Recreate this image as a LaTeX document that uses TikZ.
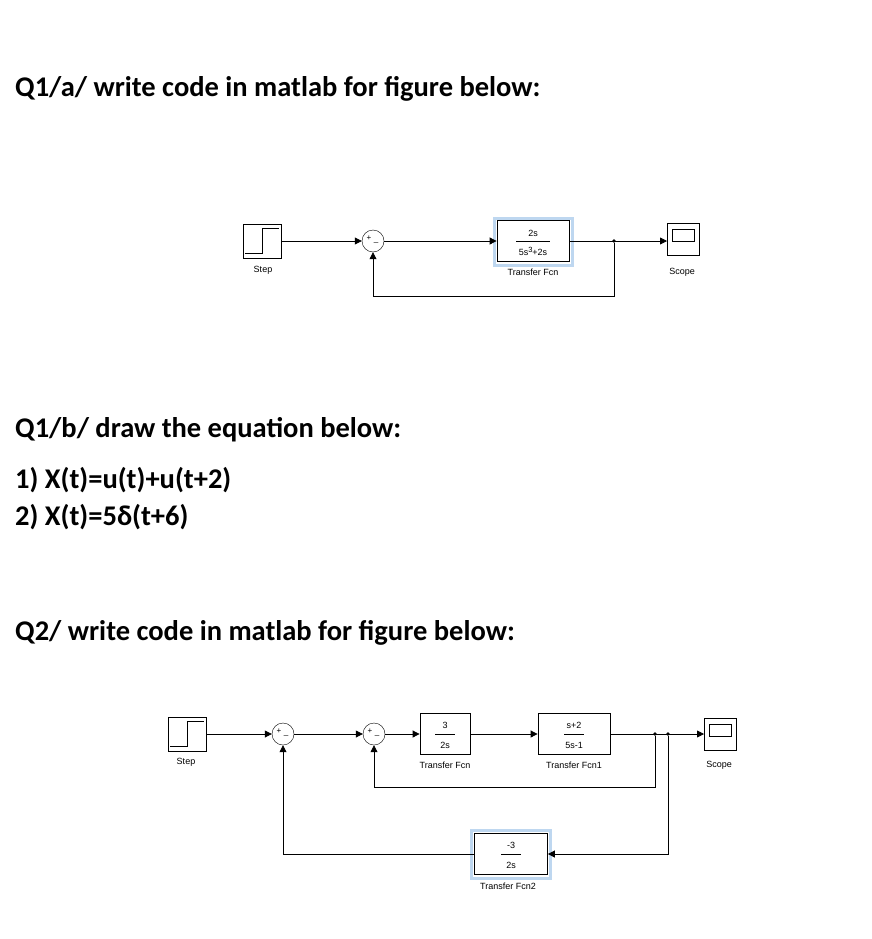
\documentclass[tikz,border=0pt]{standalone}
\usepackage{fontspec}
\setmainfont{Carlito}
\newfontfamily\simfont{Liberation Sans}
\usetikzlibrary{arrows.meta}
\definecolor{selc}{RGB}{190,215,240}
\begin{document}
\begin{tikzpicture}[x=1pt,y=-1pt,
 head/.style={anchor=base west,font=\fontsize{28.5}{32}\selectfont\bfseries,inner sep=0},
 blk/.style={draw,thick,fill=white,minimum width=#1,minimum height=41,inner sep=0},
 ft/.style={font=\simfont\fontsize{9}{10}\selectfont,inner sep=0},
 lab/.style={font=\simfont\fontsize{9}{10}\selectfont,inner sep=0},
 sum/.style={circle,draw,fill=white,minimum size=22,inner sep=0},
 sg/.style={font=\simfont\fontsize{8}{9}\selectfont,inner sep=0},
 ln/.style={line width=0.8pt},
 arr/.style={ln,-{Triangle[length=7pt,width=7pt]}},
 dot/.style={circle,fill,inner sep=1.3pt}]
\useasboundingbox[fill=white] (0,0) rectangle (872,939);
\node[head] (h1) at (15,97) {Q1/a/ write code in matlab for figure below:};
\node[head] (h2) at (15,437) {Q1/b/ draw the equation below:};
\node[head] (e1) at (15,488) {1) X(t)=u(t)+u(t+2)};
\node[head] (e2) at (15,525) {2) X(t)=5δ(t+6)};
\node[head] (h3) at (15,640) {Q2/ write code in matlab for figure below:};
\tikzset{stepblk/.pic={\draw[thick,fill=white] (-19,-17) rectangle (19,17);
  \draw[thick] (-17,12)--(0,12)--(0,-13)--(17,-13);},
 scopeblk/.pic={\draw[thick,fill=white] (-16,-16) rectangle (16,16);
  \draw (-11,-10) rectangle (11,2);}}
%% Top diagram
\pic at (262,241) {stepblk};
\coordinate (st1) at (281,241);
\node[lab] (st1l) at (263,270) {Step};
\node[sum] (s1) at (373,241) {};
\node[sg] at (369,238) {+};
\node[sg] at (376,242) {\_};
\draw[selc,line width=3pt] (494,218) rectangle (572,265);
\node[blk=72] (tf) at (533,241) {};
\node[ft] (tfn) at (533,233) {2s};
\draw (516,241.5) -- (550,241.5);
\node[ft] (tfd) at (533,251) {5s\raisebox{3pt}{\fontsize{7.5}{8}\selectfont 3}+2s};
\node[lab] (tfl) at (533,272) {Transfer Fcn};
\pic at (683,239) {scopeblk};
\coordinate (sc1) at (667,241);
\node[lab] (scl) at (682,272) {Scope};
\node[dot] (b1) at (614,241) {};
\draw[arr] (st1) -- (s1);
\draw[arr] (s1) -- (tf);
\draw[arr] (tf) -- (sc1);
\draw[arr] (b1) |- (373,296) -- (s1.south);
%% Bottom diagram
\pic at (187,734) {stepblk};
\coordinate (st2) at (206,734);
\node[lab] (st2l) at (186,762) {Step};
\node[sum] (a1) at (283,734) {};
\node[sg] at (279,731) {+};
\node[sg] at (286,735) {\_};
\node[sum] (a2) at (374,734) {};
\node[sg] at (370,731) {+};
\node[sg] at (377,735) {\_};
\node[blk=50] (g1) at (445,734) {};
\node[ft] at (445,725) {3};
\draw (435,734.5) -- (455,734.5);
\node[ft] at (445,745) {2s};
\node[lab] (g1l) at (445,765) {Transfer Fcn};
\node[blk=72] (g2) at (574,734) {};
\node[ft] at (574,725) {s+2};
\draw (564,734.5) -- (584,734.5);
\node[ft] at (574,745) {5s-1};
\node[lab] (g2l) at (574,765) {Transfer Fcn1};
\pic at (720,734) {scopeblk};
\coordinate (sc2) at (704,734);
\node[lab] (sc2l) at (719,765) {Scope};
\draw[selc,line width=3pt] (471,830) rectangle (550,878);
\node[blk=73] (g3) at (511,854) {};
\node[ft] at (511,845) {-3};
\draw (501,854.5) -- (521,854.5);
\node[ft] at (511,865) {2s};
\node[lab] (g3l) at (508,886) {Transfer Fcn2};
\node[dot] (p1) at (655,734) {};
\node[dot] (p2) at (668,734) {};
\draw[arr] (st2) -- (a1);
\draw[arr] (a1) -- (a2);
\draw[arr] (a2) -- (g1);
\draw[arr] (g1) -- (g2);
\draw[arr] (g2) -- (sc2);
\draw[arr] (p1) |- (374,787) -- (a2.south);
\draw[arr] (p2) |- (g3.east);
\draw[arr] (g3.west) -| (a1.south);
\end{tikzpicture}
\end{document}
